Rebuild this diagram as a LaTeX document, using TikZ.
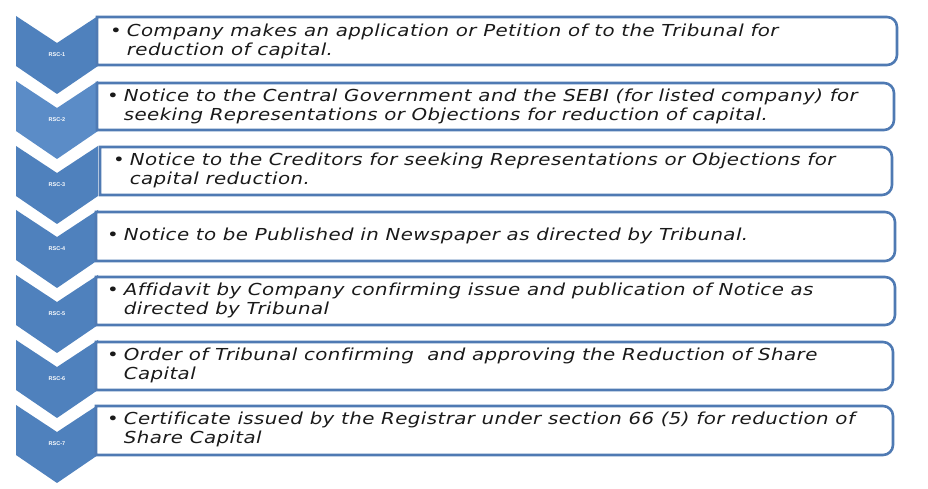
\documentclass[tikz,border=0pt]{standalone}
\usepackage{fontspec}
\setmainfont{DejaVu Sans}
\newfontfamily\txtfont[FakeStretch=1.2,LetterSpace=2.5,Ligatures=NoCommon]{DejaVu Sans}
\newfontfamily\lblfont{Liberation Sans}
\definecolor{chev}{HTML}{4F81BD}
\definecolor{chevlt}{HTML}{5B8CC7}
\definecolor{bord}{HTML}{4F7AB3}
\definecolor{ink}{HTML}{1A1A1A}
\newcommand\rscbox[4]{\draw[boxline] (#1,{489-#2}) -- ({#3-10},{489-#2}) arc[start angle=90,end angle=0,radius=10] -- (#3,{489-#4+10}) arc[start angle=0,end angle=-90,radius=10] -- (#1,{489-#4}) -- cycle;}
\begin{document}
\begin{tikzpicture}[x=1pt,y=1pt,
  boxline/.style={draw=bord,line width=2.6pt,fill=white},
  txt/.style={font=\txtfont\itshape\fontsize{16.5}{19}\selectfont,text=ink,inner sep=0pt,anchor=base west},
  lbl/.style={font=\lblfont\bfseries\fontsize{5.5}{6}\selectfont,text=white,inner sep=0pt}]
\useasboundingbox (0,0) rectangle (928,489);
\fill[white] (0,0) rectangle (928,489);
% chevrons
\foreach \t/\n/\c in {16/1/chev,81/2/chevlt,146/3/chev,210/4/chev,275/5/chev,340/6/chev,405/7/chev}{
  \fill[\c] (16,{489-\t}) -- (57,{489-\t-27}) -- (98,{489-\t}) -- (98,{489-\t-50}) -- (57,{489-\t-78}) -- (16,{489-\t-50}) -- cycle;
  \node[lbl] (c\n) at (57,{489-\t-39}) {RSC-\n};
}
% boxes
\rscbox{97}{17}{897}{65}
\rscbox{97}{83}{894}{130}
\rscbox{100}{147}{892}{195}
\rscbox{96}{212}{895}{261}
\rscbox{96}{277}{895}{325}
\rscbox{96}{342}{893}{390}
\rscbox{96}{406}{893}{455}
% texts
\node[txt] (t1) at (110,{489-37}) {\begin{tabular}[t]{@{}l@{\hspace{5pt}}l@{}}•&Company makes an application or Petition of to the Tribunal for\\&reduction of capital.\end{tabular}};
\node[txt] (t2) at (107,{489-102}) {\begin{tabular}[t]{@{}l@{\hspace{5pt}}l@{}}•&Notice to the Central Government and the SEBI (for listed company) for\\&seeking Representations or Objections for reduction of capital.\end{tabular}};
\node[txt] (t3) at (113,{489-166}) {\begin{tabular}[t]{@{}l@{\hspace{5pt}}l@{}}•&Notice to the Creditors for seeking Representations or Objections for\\&capital reduction.\end{tabular}};
\node[txt] (t4) at (107,{489-241}) {\begin{tabular}[t]{@{}l@{\hspace{5pt}}l@{}}•&Notice to be Published in Newspaper as directed by Tribunal.\end{tabular}};
\node[txt] (t5) at (107,{489-296}) {\begin{tabular}[t]{@{}l@{\hspace{5pt}}l@{}}•&Affidavit by Company confirming issue and publication of Notice as\\&directed by Tribunal\end{tabular}};
\node[txt] (t6) at (107,{489-361}) {\begin{tabular}[t]{@{}l@{\hspace{5pt}}l@{}}•&Order of Tribunal confirming\ \ and approving the Reduction of Share\\&Capital\end{tabular}};
\node[txt] (t7) at (107,{489-425}) {\begin{tabular}[t]{@{}l@{\hspace{5pt}}l@{}}•&Certificate issued by the Registrar under section 66 (5) for reduction of\\&Share Capital\end{tabular}};
\end{tikzpicture}
\end{document}
